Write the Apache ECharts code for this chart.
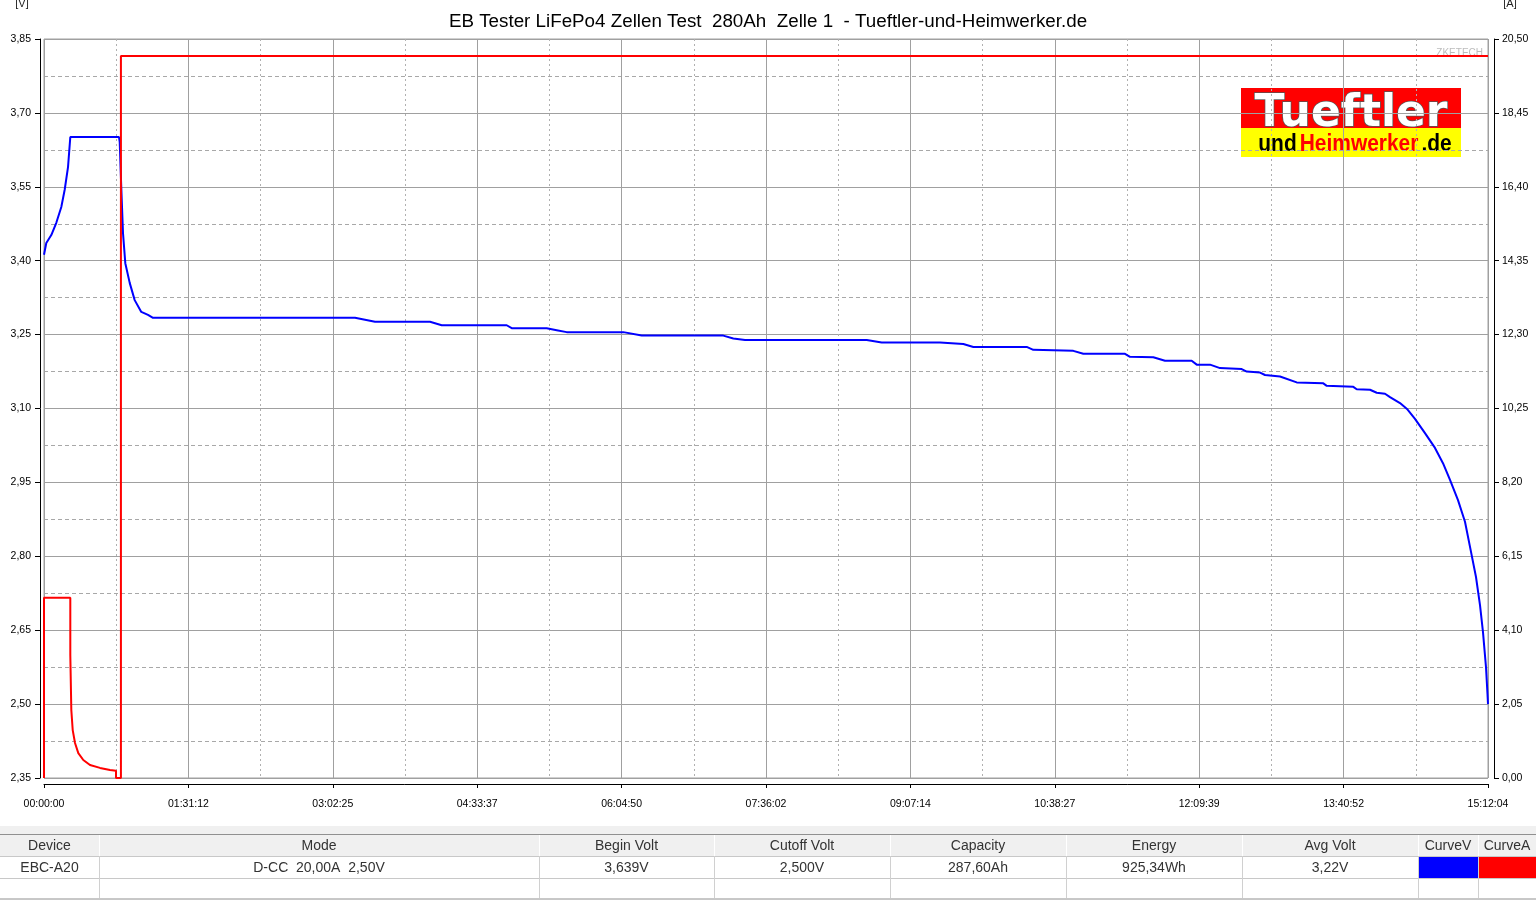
<!DOCTYPE html>
<html>
<head>
<meta charset="utf-8">
<script src="https://cdn.jsdelivr.net/npm/echarts@6/dist/echarts.min.js"></script>
<style>
html,body{margin:0;padding:0;background:#fff;}
#chart{width:1536px;height:900px;}
</style>
</head>
<body>
<div id="chart"></div>
<script>
// ---------------- DATA ----------------
const chartTitle = 'EB Tester LiFePo4 Zellen Test  280Ah  Zelle 1  - Tueftler-und-Heimwerker.de';

// time in seconds since start
const voltTime = [0,87,277,466,656,784,910,997,2842,2869,2929,2994,3081,3248,3437,3687,3941,4131,11786,12544,14629,15072,17535,17725,19051,19430,19809,21954,22652,25744,26123,26566,31179,31747,33957,34840,35219,37242,37492,39008,39387,40968,41157,42040,42484,43495,43685,44189,44568,45390,45580,46084,46273,46842,47475,48483,48612,49620,49749,50253,50506,50821,51010,51389,51654,51957,52336,52715,53018,53284,53587,53852,54080,54269,54421,54534,54648,54705,54724];
// cell voltage [V]
const voltValue = [3.412,3.436,3.452,3.477,3.509,3.544,3.590,3.651,3.651,3.641,3.548,3.456,3.395,3.355,3.320,3.296,3.290,3.284,3.284,3.276,3.276,3.269,3.269,3.263,3.263,3.259,3.255,3.255,3.248,3.248,3.242,3.239,3.239,3.234,3.234,3.231,3.225,3.225,3.219,3.217,3.211,3.211,3.205,3.204,3.197,3.197,3.189,3.189,3.182,3.180,3.175,3.173,3.168,3.165,3.153,3.151,3.146,3.144,3.139,3.138,3.132,3.130,3.123,3.111,3.099,3.079,3.050,3.020,2.989,2.955,2.914,2.870,2.809,2.758,2.701,2.646,2.575,2.520,2.500];

const currTime = [0,0,997,997,1023,1035,1088,1175,1300,1489,1743,2122,2501,2729,2729,2915,2915,54724];
// current [A]
const currValue = [0,5.00,5.00,3.41,3.36,1.89,1.33,0.97,0.69,0.50,0.36,0.28,0.22,0.20,0,0,20.03,20.03];

// axis ticks
const timeMax = 54724;           // 15:12:04
const timeStep = 5472.4;         // 01:31:12.4
const voltTicks = [2.35,2.50,2.65,2.80,2.95,3.10,3.25,3.40,3.55,3.70,3.85];
const ampMax = 20.5;
const ampStep = 2.05;

// table
const tableHeaders = ['Device','Mode','Begin Volt','Cutoff Volt','Capacity','Energy','Avg Volt','CurveV','CurveA'];
const tableRow = ['EBC-A20','D-CC  20,00A  2,50V','3,639V','2,500V','287,60Ah','925,34Wh','3,22V','',''];

// ---------------- CHART ----------------
const FONT = '"Liberation Sans", Arial, sans-serif';
function pad(n){return (n<10?'0':'')+n;}
function fmtTime(v){
  const s = Math.round(v);
  const h = Math.floor(s/3600), m = Math.floor((s%3600)/60), sec = s%60;
  return pad(h)+':'+pad(m)+':'+pad(sec);
}
function fmtComma(v){ return Number(v).toFixed(2).replace('.', ','); }

const voltData = voltTime.map((t,i)=>[t, voltValue[i]]);
const currData = currTime.map((t,i)=>[t, currValue[i]]);

// table graphics
const colEdges = [0,99,539,714,890,1066,1242,1418,1478,1536];
const tblTop = 834, rowH = 22;
const tableGraphics = [];
tableGraphics.push({type:'rect', shape:{x:0,y:826,width:1536,height:8}, style:{fill:'#f0f0f0'}, silent:true});
tableGraphics.push({type:'rect', shape:{x:0,y:tblTop,width:1536,height:rowH}, style:{fill:'#f0f0f0'}, silent:true});
tableGraphics.push({type:'rect', shape:{x:0,y:tblTop+rowH,width:1536,height:900-tblTop-rowH}, style:{fill:'#ffffff'}, silent:true});
// colour cells
tableGraphics.push({type:'rect', shape:{x:colEdges[7]+1,y:tblTop+rowH+1,width:colEdges[8]-colEdges[7]-1,height:rowH-1}, style:{fill:'#0000ff'}, silent:true});
tableGraphics.push({type:'rect', shape:{x:colEdges[8]+1,y:tblTop+rowH+1,width:colEdges[9]-colEdges[8]-1,height:rowH-1}, style:{fill:'#ff0000'}, silent:true});
// horizontal lines
[[tblTop,'#909090'],[tblTop+rowH,'#c8c8c8'],[tblTop+2*rowH,'#c8c8c8'],[898.5,'#909090']].forEach(([y,c])=>{
  tableGraphics.push({type:'line', shape:{x1:0,y1:y+0.5,x2:1536,y2:y+0.5}, style:{stroke:c,lineWidth:1}, silent:true});
});
// vertical separators
for(let i=1;i<colEdges.length-1;i++){
  const x = colEdges[i]+0.5;
  tableGraphics.push({type:'line', shape:{x1:x,y1:tblTop+1,x2:x,y2:tblTop+rowH}, style:{stroke:'#ffffff',lineWidth:1}, silent:true});
  tableGraphics.push({type:'line', shape:{x1:x,y1:tblTop+rowH,x2:x,y2:898}, style:{stroke:'#d0d0d0',lineWidth:1}, silent:true});
}
tableHeaders.forEach((h,i)=>{
  const cx = (colEdges[i]+colEdges[i+1])/2;
  tableGraphics.push({type:'text', x:cx, y:tblTop+rowH/2+1, style:{text:h, fill:'#333', font:'14px '+FONT, align:'center', verticalAlign:'middle'}, silent:true});
  if(tableRow[i]) tableGraphics.push({type:'text', x:cx, y:tblTop+rowH*1.5+1, style:{text:tableRow[i], fill:'#333', font:'14px '+FONT, align:'center', verticalAlign:'middle'}, silent:true});
});

const logoGraphics = [
  {type:'rect', shape:{x:1241,y:88,width:220,height:40}, style:{fill:'#ff0000'}, silent:true},
  {type:'rect', shape:{x:1241,y:128,width:220,height:29}, style:{fill:'#ffff00'}, silent:true},
  {type:'text', x:1351, y:115, style:{text:'Tueftler', font:'bold 44px "DejaVu Sans"', fill:'#ffffff', stroke:'#555', lineWidth:1.5, align:'center', verticalAlign:'middle'}, silent:true},
  {type:'text', x:1355, y:145, scaleX:0.91, style:{text:'{a|und} {b|Heimwerker} {a|.de}', align:'center', verticalAlign:'middle',
     rich:{a:{fill:'#000', fontSize:23, fontWeight:'bold', fontFamily:'"Liberation Sans"'}, b:{fill:'#ff0000', fontSize:23, fontWeight:'bold', fontFamily:'"Liberation Sans"'}}}, silent:true},
  {type:'text', x:1483, y:53, style:{text:'ZKETECH', fill:'#bcbcbc', font:'10px '+FONT, align:'right', verticalAlign:'middle'}, silent:true},
  {type:'text', x:22, y:9, style:{text:'[V]', fill:'#222', font:'11px '+FONT, align:'center', verticalAlign:'bottom'}, silent:true},
  {type:'text', x:1510, y:9, style:{text:'[A]', fill:'#222', font:'11px '+FONT, align:'center', verticalAlign:'bottom'}, silent:true}
];

const chart = echarts.init(document.getElementById('chart'), null, {renderer:'canvas'});
chart.setOption({
  animation:false,
  backgroundColor:'#ffffff',
  title:{text:chartTitle, left:'center', top:12, padding:0, textStyle:{fontSize:18.8, fontWeight:'normal', color:'#000', fontFamily:FONT}},
  grid:{left:44, right:48, top:39, bottom:122, show:true, borderColor:'#a0a0a0', borderWidth:1, containLabel:false},
  xAxis:{
    type:'value', min:0, max:timeMax, interval:timeStep, offset:6,
    axisLine:{show:true, onZero:false, lineStyle:{color:'#000', width:1}},
    axisTick:{show:true, length:4, lineStyle:{color:'#000'}},
    axisLabel:{formatter:fmtTime, fontSize:10.5, color:'#000', margin:15, fontFamily:FONT, showMinLabel:true, showMaxLabel:true},
    splitLine:{show:true, lineStyle:{color:'#a0a0a0', width:1}},
    minorTick:{show:false, splitNumber:2},
    minorSplitLine:{show:true, lineStyle:{color:'#b0b0b0', width:1, type:[2,3]}}
  },
  yAxis:[
    {
      type:'value', position:'left', min:2.35, max:3.85, offset:4,
      axisLine:{show:true, onZero:false, lineStyle:{color:'#000', width:1}},
      axisTick:{show:true, length:5, customValues:voltTicks, lineStyle:{color:'#000'}},
      axisLabel:{customValues:voltTicks, formatter:fmtComma, fontSize:10.5, color:'#000', margin:9, fontFamily:FONT},
      splitLine:{show:false}
    },
    {
      type:'value', position:'right', min:0, max:ampMax, interval:ampStep, offset:6,
      axisLine:{show:true, onZero:false, lineStyle:{color:'#000', width:1}},
      axisTick:{show:true, length:5, lineStyle:{color:'#000'}},
      axisLabel:{formatter:fmtComma, fontSize:10.5, color:'#000', margin:8, fontFamily:FONT},
      splitLine:{show:true, lineStyle:{color:'#a0a0a0', width:1}},
      minorTick:{show:false, splitNumber:2},
      minorSplitLine:{show:true, lineStyle:{color:'#a8a8a8', width:1, type:[4,3]}}
    }
  ],
  series:[
    {name:'CurveV', type:'line', yAxisIndex:0, data:voltData, showSymbol:false, symbol:'none', clip:false,
     lineStyle:{color:'#0000ff', width:2}, itemStyle:{color:'#0000ff'}, z:3},
    {name:'CurveA', type:'line', yAxisIndex:1, data:currData, showSymbol:false, symbol:'none', clip:false,
     lineStyle:{color:'#ff0000', width:2}, itemStyle:{color:'#ff0000'}, z:4}
  ],
  graphic:{elements: tableGraphics.concat(logoGraphics)}
});
</script>
</body>
</html>
